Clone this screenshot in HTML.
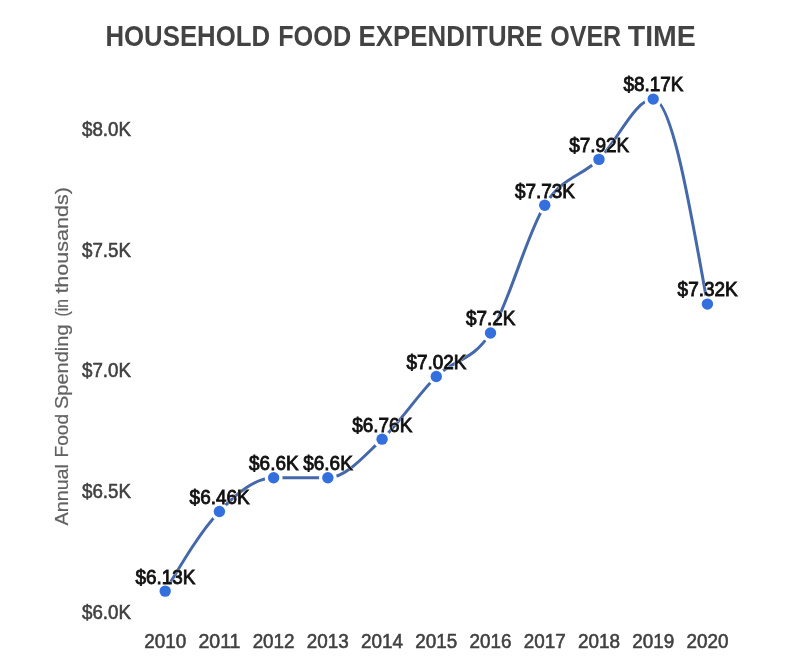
<!DOCTYPE html>
<html><head><meta charset="utf-8"><style>
html,body{margin:0;padding:0;background:#fff;width:800px;height:658px;overflow:hidden}
svg{display:block;will-change:transform}
</style></head><body>
<svg width="800" height="658" viewBox="0 0 800 658">
<rect width="800" height="658" fill="#fff"/>
<text x="105.50" y="45.7" font-family="'Liberation Sans', sans-serif" font-weight="bold" font-size="30" fill="#434343" textLength="164.50" lengthAdjust="spacingAndGlyphs">HOUSEHOLD</text>
<text x="278.20" y="45.7" font-family="'Liberation Sans', sans-serif" font-weight="bold" font-size="30" fill="#434343" textLength="73.00" lengthAdjust="spacingAndGlyphs">FOOD</text>
<text x="358.50" y="45.7" font-family="'Liberation Sans', sans-serif" font-weight="bold" font-size="30" fill="#434343" textLength="184.00" lengthAdjust="spacingAndGlyphs">EXPENDITURE</text>
<text x="550.20" y="45.7" font-family="'Liberation Sans', sans-serif" font-weight="bold" font-size="30" fill="#434343" textLength="71.00" lengthAdjust="spacingAndGlyphs">OVER</text>
<text x="627.80" y="45.7" font-family="'Liberation Sans', sans-serif" font-weight="bold" font-size="30" fill="#434343" textLength="68.00" lengthAdjust="spacingAndGlyphs">TIME</text>
<text transform="translate(68,526) rotate(-90)" x="0.50" font-family="'Liberation Sans', sans-serif" font-size="19" fill="#616161" stroke="#616161" stroke-width="0.2" textLength="61.50" lengthAdjust="spacingAndGlyphs">Annual</text>
<text transform="translate(68,526) rotate(-90)" x="68.50" font-family="'Liberation Sans', sans-serif" font-size="19" fill="#616161" stroke="#616161" stroke-width="0.2" textLength="43.50" lengthAdjust="spacingAndGlyphs">Food</text>
<text transform="translate(68,526) rotate(-90)" x="117.00" font-family="'Liberation Sans', sans-serif" font-size="19" fill="#616161" stroke="#616161" stroke-width="0.2" textLength="84.50" lengthAdjust="spacingAndGlyphs">Spending</text>
<text transform="translate(68,526) rotate(-90)" x="209.50" font-family="'Liberation Sans', sans-serif" font-size="19" fill="#616161" stroke="#616161" stroke-width="0.2" textLength="17.50" lengthAdjust="spacingAndGlyphs">(in</text>
<text transform="translate(68,526) rotate(-90)" x="232.40" font-family="'Liberation Sans', sans-serif" font-size="19" fill="#616161" stroke="#616161" stroke-width="0.2" textLength="106.60" lengthAdjust="spacingAndGlyphs">thousands)</text>
<text x="82" y="135.90" font-family="'Liberation Sans', sans-serif" font-size="19.5" fill="#404040" stroke="#404040" stroke-width="0.55" textLength="49" lengthAdjust="spacingAndGlyphs">$8.0K</text>
<text x="82" y="256.60" font-family="'Liberation Sans', sans-serif" font-size="19.5" fill="#404040" stroke="#404040" stroke-width="0.55" textLength="49" lengthAdjust="spacingAndGlyphs">$7.5K</text>
<text x="82" y="377.40" font-family="'Liberation Sans', sans-serif" font-size="19.5" fill="#404040" stroke="#404040" stroke-width="0.55" textLength="49" lengthAdjust="spacingAndGlyphs">$7.0K</text>
<text x="82" y="498.10" font-family="'Liberation Sans', sans-serif" font-size="19.5" fill="#404040" stroke="#404040" stroke-width="0.55" textLength="49" lengthAdjust="spacingAndGlyphs">$6.5K</text>
<text x="82" y="618.90" font-family="'Liberation Sans', sans-serif" font-size="19.5" fill="#404040" stroke="#404040" stroke-width="0.55" textLength="49" lengthAdjust="spacingAndGlyphs">$6.0K</text>
<text x="165.19" y="647.8" text-anchor="middle" font-family="'Liberation Sans', sans-serif" font-size="19.5" fill="#404040" stroke="#404040" stroke-width="0.55" textLength="42" lengthAdjust="spacingAndGlyphs">2010</text>
<text x="219.41" y="647.8" text-anchor="middle" font-family="'Liberation Sans', sans-serif" font-size="19.5" fill="#404040" stroke="#404040" stroke-width="0.55" textLength="42" lengthAdjust="spacingAndGlyphs">2011</text>
<text x="273.63" y="647.8" text-anchor="middle" font-family="'Liberation Sans', sans-serif" font-size="19.5" fill="#404040" stroke="#404040" stroke-width="0.55" textLength="42" lengthAdjust="spacingAndGlyphs">2012</text>
<text x="327.86" y="647.8" text-anchor="middle" font-family="'Liberation Sans', sans-serif" font-size="19.5" fill="#404040" stroke="#404040" stroke-width="0.55" textLength="42" lengthAdjust="spacingAndGlyphs">2013</text>
<text x="382.08" y="647.8" text-anchor="middle" font-family="'Liberation Sans', sans-serif" font-size="19.5" fill="#404040" stroke="#404040" stroke-width="0.55" textLength="42" lengthAdjust="spacingAndGlyphs">2014</text>
<text x="436.30" y="647.8" text-anchor="middle" font-family="'Liberation Sans', sans-serif" font-size="19.5" fill="#404040" stroke="#404040" stroke-width="0.55" textLength="42" lengthAdjust="spacingAndGlyphs">2015</text>
<text x="490.52" y="647.8" text-anchor="middle" font-family="'Liberation Sans', sans-serif" font-size="19.5" fill="#404040" stroke="#404040" stroke-width="0.55" textLength="42" lengthAdjust="spacingAndGlyphs">2016</text>
<text x="544.74" y="647.8" text-anchor="middle" font-family="'Liberation Sans', sans-serif" font-size="19.5" fill="#404040" stroke="#404040" stroke-width="0.55" textLength="42" lengthAdjust="spacingAndGlyphs">2017</text>
<text x="598.97" y="647.8" text-anchor="middle" font-family="'Liberation Sans', sans-serif" font-size="19.5" fill="#404040" stroke="#404040" stroke-width="0.55" textLength="42" lengthAdjust="spacingAndGlyphs">2018</text>
<text x="653.19" y="647.8" text-anchor="middle" font-family="'Liberation Sans', sans-serif" font-size="19.5" fill="#404040" stroke="#404040" stroke-width="0.55" textLength="42" lengthAdjust="spacingAndGlyphs">2019</text>
<text x="707.41" y="647.8" text-anchor="middle" font-family="'Liberation Sans', sans-serif" font-size="19.5" fill="#404040" stroke="#404040" stroke-width="0.55" textLength="42" lengthAdjust="spacingAndGlyphs">2020</text>
<path d="M165.19,591.11 C183.26,560.76 201.34,530.41 219.41,511.52 C237.49,492.62 255.56,477.75 273.63,477.75 C291.71,477.75 309.78,477.75 327.86,477.75 C345.93,477.75 364.00,456.04 382.08,439.16 C400.15,422.28 418.23,394.14 436.30,376.45 C454.37,358.76 472.45,361.58 490.52,333.03 C508.60,304.49 526.67,234.15 544.74,205.20 C562.82,176.26 580.89,177.06 598.97,159.38 C617.04,141.69 635.11,99.08 653.19,99.08 C671.26,99.08 689.34,201.58 707.41,304.09" fill="none" stroke="#4568aa" stroke-width="3"/>
<circle cx="165.19" cy="591.11" r="9" fill="#fff"/><circle cx="165.19" cy="591.11" r="5.7" fill="#3470dd"/>
<circle cx="219.41" cy="511.52" r="9" fill="#fff"/><circle cx="219.41" cy="511.52" r="5.7" fill="#3470dd"/>
<circle cx="273.63" cy="477.75" r="9" fill="#fff"/><circle cx="273.63" cy="477.75" r="5.7" fill="#3470dd"/>
<circle cx="327.86" cy="477.75" r="9" fill="#fff"/><circle cx="327.86" cy="477.75" r="5.7" fill="#3470dd"/>
<circle cx="382.08" cy="439.16" r="9" fill="#fff"/><circle cx="382.08" cy="439.16" r="5.7" fill="#3470dd"/>
<circle cx="436.30" cy="376.45" r="9" fill="#fff"/><circle cx="436.30" cy="376.45" r="5.7" fill="#3470dd"/>
<circle cx="490.52" cy="333.03" r="9" fill="#fff"/><circle cx="490.52" cy="333.03" r="5.7" fill="#3470dd"/>
<circle cx="544.74" cy="205.20" r="9" fill="#fff"/><circle cx="544.74" cy="205.20" r="5.7" fill="#3470dd"/>
<circle cx="598.97" cy="159.38" r="9" fill="#fff"/><circle cx="598.97" cy="159.38" r="5.7" fill="#3470dd"/>
<circle cx="653.19" cy="99.08" r="9" fill="#fff"/><circle cx="653.19" cy="99.08" r="5.7" fill="#3470dd"/>
<circle cx="707.41" cy="304.09" r="9" fill="#fff"/><circle cx="707.41" cy="304.09" r="5.7" fill="#3470dd"/>
<text x="165.39" y="583.51" text-anchor="middle" font-family="'Liberation Sans', sans-serif" font-size="19.5" fill="#fff" stroke="#fff" stroke-width="1.2" stroke-linejoin="round" textLength="60" lengthAdjust="spacingAndGlyphs">$6.13K</text>
<text x="219.61" y="503.92" text-anchor="middle" font-family="'Liberation Sans', sans-serif" font-size="19.5" fill="#fff" stroke="#fff" stroke-width="1.2" stroke-linejoin="round" textLength="60" lengthAdjust="spacingAndGlyphs">$6.46K</text>
<text x="273.83" y="470.15" text-anchor="middle" font-family="'Liberation Sans', sans-serif" font-size="19.5" fill="#fff" stroke="#fff" stroke-width="1.2" stroke-linejoin="round" textLength="49.5" lengthAdjust="spacingAndGlyphs">$6.6K</text>
<text x="328.06" y="470.15" text-anchor="middle" font-family="'Liberation Sans', sans-serif" font-size="19.5" fill="#fff" stroke="#fff" stroke-width="1.2" stroke-linejoin="round" textLength="49.5" lengthAdjust="spacingAndGlyphs">$6.6K</text>
<text x="382.28" y="431.56" text-anchor="middle" font-family="'Liberation Sans', sans-serif" font-size="19.5" fill="#fff" stroke="#fff" stroke-width="1.2" stroke-linejoin="round" textLength="60" lengthAdjust="spacingAndGlyphs">$6.76K</text>
<text x="436.50" y="368.85" text-anchor="middle" font-family="'Liberation Sans', sans-serif" font-size="19.5" fill="#fff" stroke="#fff" stroke-width="1.2" stroke-linejoin="round" textLength="60" lengthAdjust="spacingAndGlyphs">$7.02K</text>
<text x="490.72" y="325.43" text-anchor="middle" font-family="'Liberation Sans', sans-serif" font-size="19.5" fill="#fff" stroke="#fff" stroke-width="1.2" stroke-linejoin="round" textLength="49.5" lengthAdjust="spacingAndGlyphs">$7.2K</text>
<text x="544.94" y="197.60" text-anchor="middle" font-family="'Liberation Sans', sans-serif" font-size="19.5" fill="#fff" stroke="#fff" stroke-width="1.2" stroke-linejoin="round" textLength="60" lengthAdjust="spacingAndGlyphs">$7.73K</text>
<text x="599.17" y="151.78" text-anchor="middle" font-family="'Liberation Sans', sans-serif" font-size="19.5" fill="#fff" stroke="#fff" stroke-width="1.2" stroke-linejoin="round" textLength="60" lengthAdjust="spacingAndGlyphs">$7.92K</text>
<text x="653.39" y="91.48" text-anchor="middle" font-family="'Liberation Sans', sans-serif" font-size="19.5" fill="#fff" stroke="#fff" stroke-width="1.2" stroke-linejoin="round" textLength="60" lengthAdjust="spacingAndGlyphs">$8.17K</text>
<text x="707.61" y="296.49" text-anchor="middle" font-family="'Liberation Sans', sans-serif" font-size="19.5" fill="#fff" stroke="#fff" stroke-width="1.2" stroke-linejoin="round" textLength="60" lengthAdjust="spacingAndGlyphs">$7.32K</text>
<text x="165.39" y="583.51" text-anchor="middle" font-family="'Liberation Sans', sans-serif" font-size="19.5" fill="#111" stroke="#111" stroke-width="0.85" textLength="60" lengthAdjust="spacingAndGlyphs">$6.13K</text>
<text x="219.61" y="503.92" text-anchor="middle" font-family="'Liberation Sans', sans-serif" font-size="19.5" fill="#111" stroke="#111" stroke-width="0.85" textLength="60" lengthAdjust="spacingAndGlyphs">$6.46K</text>
<text x="273.83" y="470.15" text-anchor="middle" font-family="'Liberation Sans', sans-serif" font-size="19.5" fill="#111" stroke="#111" stroke-width="0.85" textLength="49.5" lengthAdjust="spacingAndGlyphs">$6.6K</text>
<text x="328.06" y="470.15" text-anchor="middle" font-family="'Liberation Sans', sans-serif" font-size="19.5" fill="#111" stroke="#111" stroke-width="0.85" textLength="49.5" lengthAdjust="spacingAndGlyphs">$6.6K</text>
<text x="382.28" y="431.56" text-anchor="middle" font-family="'Liberation Sans', sans-serif" font-size="19.5" fill="#111" stroke="#111" stroke-width="0.85" textLength="60" lengthAdjust="spacingAndGlyphs">$6.76K</text>
<text x="436.50" y="368.85" text-anchor="middle" font-family="'Liberation Sans', sans-serif" font-size="19.5" fill="#111" stroke="#111" stroke-width="0.85" textLength="60" lengthAdjust="spacingAndGlyphs">$7.02K</text>
<text x="490.72" y="325.43" text-anchor="middle" font-family="'Liberation Sans', sans-serif" font-size="19.5" fill="#111" stroke="#111" stroke-width="0.85" textLength="49.5" lengthAdjust="spacingAndGlyphs">$7.2K</text>
<text x="544.94" y="197.60" text-anchor="middle" font-family="'Liberation Sans', sans-serif" font-size="19.5" fill="#111" stroke="#111" stroke-width="0.85" textLength="60" lengthAdjust="spacingAndGlyphs">$7.73K</text>
<text x="599.17" y="151.78" text-anchor="middle" font-family="'Liberation Sans', sans-serif" font-size="19.5" fill="#111" stroke="#111" stroke-width="0.85" textLength="60" lengthAdjust="spacingAndGlyphs">$7.92K</text>
<text x="653.39" y="91.48" text-anchor="middle" font-family="'Liberation Sans', sans-serif" font-size="19.5" fill="#111" stroke="#111" stroke-width="0.85" textLength="60" lengthAdjust="spacingAndGlyphs">$8.17K</text>
<text x="707.61" y="296.49" text-anchor="middle" font-family="'Liberation Sans', sans-serif" font-size="19.5" fill="#111" stroke="#111" stroke-width="0.85" textLength="60" lengthAdjust="spacingAndGlyphs">$7.32K</text>
</svg>
</body></html>
